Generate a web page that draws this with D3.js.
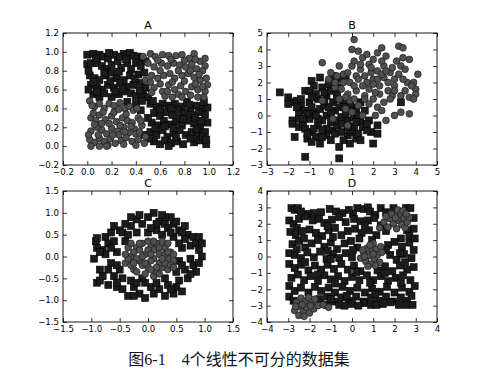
<!DOCTYPE html>
<html>
<head>
<meta charset="utf-8">
<script src="https://cdn.jsdelivr.net/npm/d3@7"></script>
<style>
  body { margin: 0; background: #fff; }
  svg { display: block; }
  .tick text { font-family: "DejaVu Sans", sans-serif; font-size: 8.6px; fill: #000; }
  .tick line { stroke: #000; stroke-width: 0.8; }
  .domain { display: none; }
</style>
</head>
<body>
<svg id="fig" width="486" height="377"></svg>
<script>
// ---- data ----
// panel A: XOR-like uniform square
const aSquares = [[0.0,0.97],[0.05,0.98],[0.1,0.97],[0.13,0.95],[0.17,0.93],[0.22,0.97],[0.3,0.98],[0.35,0.99],[0.38,0.96],[0.42,0.95],[0.45,0.93],
  [0.0,0.87],[0.03,0.88],[0.08,0.88],[0.12,0.85],[0.16,0.82],[0.2,0.86],[0.25,0.9],[0.33,0.88],[0.4,0.88],[0.28,0.83],[0.36,0.82],[0.44,0.85],
  [0.02,0.75],[0.06,0.72],[0.1,0.7],[0.15,0.75],[0.2,0.78],[0.24,0.72],[0.3,0.7],[0.35,0.75],[0.42,0.76],[0.47,0.78],
  [0.03,0.65],[0.08,0.62],[0.12,0.6],[0.17,0.65],[0.22,0.62],[0.27,0.67],[0.32,0.63],[0.38,0.65],[0.44,0.67],[0.48,0.62],
  [0.05,0.55],[0.1,0.52],[0.14,0.56],[0.2,0.52],[0.26,0.55],[0.3,0.58],[0.36,0.56],[0.4,0.53],[0.46,0.55],[0.5,0.52],
  [0.33,0.47],[0.4,0.45],[0.45,0.48],
  [0.07,0.93],[0.18,0.99],[0.27,0.95],[0.32,0.92],[0.48,0.9],[0.01,0.8],[0.14,0.78],[0.26,0.79],[0.39,0.71],[0.05,0.68],[0.19,0.69],
  [0.29,0.61],[0.43,0.59],[0.08,0.58],[0.23,0.58],[0.01,0.6],
  [0.52,0.45],[0.57,0.42],[0.62,0.45],[0.67,0.43],[0.72,0.45],[0.78,0.42],[0.85,0.4],[0.9,0.43],[0.95,0.4],[0.99,0.41],
  [0.55,0.35],[0.6,0.32],[0.65,0.36],[0.7,0.33],[0.75,0.38],[0.8,0.35],[0.86,0.33],[0.92,0.36],[0.97,0.33],
  [0.53,0.25],[0.58,0.22],[0.63,0.27],[0.68,0.23],[0.73,0.26],[0.78,0.22],[0.83,0.27],[0.88,0.24],[0.93,0.2],[0.99,0.25],
  [0.52,0.15],[0.57,0.12],[0.62,0.17],[0.66,0.1],[0.71,0.14],[0.76,0.17],[0.81,0.12],[0.86,0.15],[0.91,0.12],[0.97,0.15],
  [0.55,0.05],[0.6,0.02],[0.64,0.06],[0.69,0.03],[0.74,0.05],[0.79,0.02],[0.88,0.04],[0.93,0.06],[0.98,0.02],
  [0.47,0.12],[0.5,0.3],[0.44,0.38],[0.82,0.47],[0.96,0.47],
  [0.54,0.48],[0.6,0.39],[0.69,0.4],[0.76,0.3],[0.84,0.44],[0.89,0.3],[0.94,0.27],[0.56,0.19],[0.64,0.21],[0.71,0.19],[0.79,0.29],
  [0.85,0.08],[0.9,0.18],[0.95,0.1],[0.51,0.08],[0.67,0.0],[0.73,0.1],[0.98,0.07]];
const aCircles = [[0.52,0.98],[0.56,0.95],[0.62,0.97],[0.67,0.96],[0.73,0.96],[0.78,0.97],[0.84,0.93],[0.88,0.98],[0.93,0.9],[0.97,0.85],
  [0.5,0.88],[0.55,0.84],[0.61,0.88],[0.66,0.85],[0.71,0.88],[0.76,0.86],[0.81,0.84],[0.86,0.87],[0.9,0.82],[0.95,0.8],
  [0.53,0.75],[0.58,0.72],[0.63,0.75],[0.68,0.77],[0.72,0.72],[0.78,0.75],[0.83,0.77],[0.88,0.73],[0.93,0.7],[0.98,0.72],
  [0.55,0.62],[0.62,0.58],[0.67,0.65],[0.72,0.6],[0.77,0.64],[0.81,0.58],[0.86,0.63],[0.91,0.6],[0.97,0.58],[0.99,0.65],
  [0.64,0.53],[0.7,0.52],[0.75,0.55],[0.85,0.54],[0.96,0.52],[0.48,0.7],[0.46,0.95],[0.6,0.8],[0.89,0.92],[0.8,0.91],
  [0.58,0.91],[0.69,0.92],[0.75,0.8],[0.85,0.8],[0.92,0.76],[0.97,0.93],[0.52,0.68],[0.6,0.66],[0.7,0.68],[0.8,0.69],[0.89,0.66],
  [0.95,0.63],[0.66,0.58],[0.53,0.57],[0.78,0.52],[0.91,0.52],
  [0.02,0.48],[0.06,0.42],[0.1,0.45],[0.14,0.4],[0.18,0.45],[0.22,0.43],[0.27,0.46],[0.31,0.4],[0.35,0.42],[0.38,0.38],
  [0.03,0.3],[0.07,0.27],[0.1,0.33],[0.15,0.28],[0.2,0.32],[0.24,0.26],[0.29,0.3],[0.33,0.27],[0.37,0.25],[0.42,0.3],
  [0.03,0.16],[0.08,0.2],[0.12,0.17],[0.16,0.13],[0.2,0.19],[0.25,0.16],[0.3,0.2],[0.34,0.14],[0.39,0.18],[0.45,0.22],
  [0.02,0.07],[0.06,0.04],[0.1,0.08],[0.14,0.05],[0.19,0.08],[0.23,0.03],[0.28,0.06],[0.32,0.09],[0.37,0.05],[0.42,0.07],[0.47,0.03],
  [0.03,0.0],[0.1,0.0],[0.17,0.01],[0.26,0.12],[0.12,0.24],[0.05,0.35],[0.4,0.13],[0.48,0.1],[0.22,0.36],
  [0.04,0.43],[0.13,0.36],[0.26,0.39],[0.32,0.34],[0.41,0.4],[0.06,0.23],[0.18,0.24],[0.27,0.22],[0.36,0.21],[0.44,0.27],
  [0.01,0.12],[0.09,0.12],[0.21,0.12],[0.31,0.15],[0.43,0.15],[0.16,0.0],[0.3,0.02],[0.4,0.01]];

// panel B: two overlapping blobs
const bSquares = [[-2.4,1.4],[-2.0,1.1],[-1.9,0.8],[-1.6,0.9],[-1.2,1.5],[-0.9,2.1],[-0.8,1.8],[-1.0,1.5],[-0.4,1.7],[-0.1,1.9],[0.2,2.0],[0.5,2.2],[0.7,2.4],
  [-1.4,0.6],[-1.0,0.8],[-0.6,1.0],[-0.2,1.2],[0.3,1.3],[0.6,0.9],[1.0,0.5],[1.4,0.8],[-1.8,-0.3],[-1.8,-0.5],[-1.5,-0.7],[-1.3,-0.5],[-1.2,-0.8],
  [-1.0,-0.2],[-0.8,0.2],[-0.5,0.4],[-0.2,0.0],[0.2,0.3],[0.5,-0.1],[0.8,-0.3],[1.1,-0.1],[1.4,-0.4],[1.8,-0.3],[-1.7,-1.3],[-1.1,-1.4],[-0.9,-1.0],
  [-0.7,-1.3],[-0.5,-1.7],[-0.9,-1.6],[-0.2,-0.8],[0.1,-0.9],[0.2,-1.1],[0.5,-1.0],[0.8,-1.2],[1.2,-1.4],[1.3,-1.1],[1.0,-1.0],[1.5,-0.7],[1.9,-1.0],
  [2.2,-0.6],[2.2,-1.1],[2.0,-1.7],[0.4,-1.9],[0.9,-1.7],[-1.2,-2.5],[0.4,-2.6],[0.0,-0.4],[-0.4,-0.3],[-0.6,-0.6],[0.3,-0.6],[0.7,0.1],[1.2,0.2],
  [-1.5,0.2],[-1.2,0.3],[-0.9,0.5],[-0.3,0.6],[0.1,0.8],[0.4,0.5],[1.1,-0.7],[1.6,0.3],[-0.6,-0.2],[0.0,1.5],[-0.5,2.3],[0.1,2.4],[1.4,-1.5],
  [3.3,0.8],[-0.2,-1.2],[0.6,-1.5],[-0.4,-1.3],[1.7,-0.9],[-1.4,1.0],[-0.7,0.0],[0.0,0.2],[-1.1,0.1],
  [-0.3,1.4],[0.4,1.7],[-0.7,1.3],[0.9,0.7],[-1.6,0.5],[-0.1,0.5],[0.6,0.5],[1.3,0.0],[-1.5,-0.2],[-0.4,-0.9],[0.5,-0.5],[1.7,-0.5],
  [-1.1,-1.1],[0.0,-1.5],[0.9,-0.9],[-0.8,-0.8],[-0.3,0.9],[-0.9,1.1],[0.3,1.0],[1.2,-0.4],[-2.0,0.7],[-1.3,-0.2],[0.8,-0.7],[0.2,-0.3]];
const bCircles = [[1.1,4.6],[3.2,4.2],[3.4,4.1],[2.4,4.1],[2.2,3.8],[1.0,4.0],[1.3,3.9],[4.1,2.5],[3.7,3.4],[3.4,3.5],[3.3,3.0],[-0.4,3.2],[0.4,3.0],
  [1.0,3.0],[1.5,3.5],[1.8,3.1],[2.5,3.0],[2.8,2.6],[3.0,2.2],[3.6,2.0],[3.9,2.0],[4.0,1.6],[4.0,1.3],[3.7,1.1],[3.3,1.2],[3.3,0.2],[3.7,0.1],
  [3.0,0.0],[2.6,-0.3],[2.2,0.5],[2.1,0.0],[1.5,0.0],[0.8,-0.6],[0.1,-0.2],[-0.4,0.9],[-0.1,2.2],[0.0,2.6],[0.3,2.4],[0.5,1.6],[0.8,1.3],[1.2,1.5],
  [1.6,1.2],[2.0,1.0],[2.3,1.3],[2.7,1.5],[3.0,1.8],[2.5,2.3],[2.0,2.2],[1.7,2.0],[1.2,2.4],[0.9,2.0],[0.6,2.5],[1.4,2.8],[2.2,2.7],[2.9,2.9],
  [1.9,2.6],[2.3,1.8],[1.5,1.8],[0.9,0.9],[1.3,0.6],[1.8,0.7],[2.5,0.8],[0.7,0.4],[1.0,0.2],[0.4,1.0],[0.2,1.7],[2.7,2.0],[3.2,2.5],[1.1,3.3],
  [2.0,3.4],[2.6,3.6],[3.5,2.8],[1.6,2.4],[2.1,1.4],[1.1,1.0],[1.8,1.6],[0.6,2.0],[2.4,2.5],[2.9,1.2],[3.5,1.5],
  [1.3,2.2],[1.9,2.9],[2.6,2.7],[3.1,3.3],[3.4,2.2],[0.8,2.6],[1.1,1.8],[2.2,2.2],[2.8,1.0],[1.6,1.0],[2.4,0.3],[3.8,1.8],[1.4,3.1],
  [0.2,2.0],[3.0,1.5],[2.0,1.9],[1.7,3.7],[0.7,1.1],[2.4,3.3],[3.9,1.0]];

// panel C: disk inside a ring
const cSquares = [[-0.95,-0.05],[-0.92,0.35],[-0.9,0.42],[-0.85,-0.3],[-0.9,-0.6],[-0.85,-0.55],[-0.75,0.45],[-0.7,0.3],[-0.8,0.15],[-0.65,-0.15],
  [-0.6,-0.45],[-0.55,-0.7],[-0.5,0.6],[-0.45,0.55],[-0.3,0.7],[-0.3,0.9],[-0.1,0.75],[0.0,0.9],[0.1,1.0],[0.2,0.8],[0.3,0.75],[0.35,0.65],
  [0.45,0.75],[0.5,0.8],[0.55,0.6],[0.65,0.7],[0.7,0.5],[0.8,0.45],[0.75,0.25],[0.85,0.3],[0.9,0.15],[0.95,0.0],[0.75,-0.05],[0.8,-0.2],
  [0.65,-0.3],[0.7,-0.5],[0.55,-0.55],[0.5,-0.7],[0.45,-0.85],[0.3,-0.9],[0.35,-0.65],[0.2,-0.75],[0.05,-0.7],[-0.05,-0.6],[-0.15,-0.85],
  [-0.25,-0.7],[-0.35,-0.9],[-0.3,-0.55],[-0.45,-0.5],[-0.5,-0.3],[-0.55,0.1],[-0.6,0.35],[-0.4,0.35],[-0.2,0.55],[0.0,0.55],[0.15,0.6],
  [0.25,0.5],[0.45,0.45],[0.6,0.2],[0.55,-0.1],[0.5,-0.35],[0.3,-0.5],[-0.1,-0.5],[-0.7,-0.3],[-0.75,0.05],[-0.65,0.55],[-0.2,0.85],[0.4,0.9],
  [0.85,-0.35],[0.6,-0.8],[-0.05,-0.95],[-0.45,-0.75],[-0.9,0.2],[0.9,0.45],[0.65,0.4],[-0.55,-0.6],[-0.8,-0.45],[0.3,0.9],[0.15,0.75],[-0.4,0.75],
  [-0.85,0.1],[-0.7,-0.65],[-0.6,0.7],[-0.15,0.95],[0.25,0.95],[0.6,0.55],[0.95,0.3],[0.9,-0.15],[0.75,-0.4],[0.4,-0.75],[0.1,-0.85],
  [-0.25,-0.9],[-0.55,-0.2],[-0.65,0.2],[0.55,0.3],[0.6,-0.2],[-0.35,0.5],[0.05,0.65],[0.4,0.55],[-0.2,-0.6],[0.15,-0.6]];
const cCircles = [[-0.4,-0.15],[-0.35,0.2],[-0.3,0.0],[-0.25,-0.3],[-0.2,0.2],[-0.15,-0.1],[-0.1,0.3],[-0.05,0.05],[0.0,-0.25],[0.05,0.2],
  [0.1,-0.05],[0.1,-0.45],[0.15,0.3],[0.2,0.05],[0.25,-0.25],[0.3,0.2],[0.35,-0.05],[0.4,0.1],[0.45,-0.1],[0.35,-0.3],[0.15,-0.35],[-0.05,-0.4],
  [-0.2,-0.35],[0.0,0.35],[0.1,0.15],[-0.3,-0.2],[0.2,-0.15],[-0.1,-0.2],[0.25,0.35],[-0.25,0.1],[0.05,-0.1],[0.3,-0.15],[-0.15,0.15],[0.4,-0.2],
  [0.45,0.05],[-0.35,-0.05],[0.0,0.15],[0.15,-0.25],[-0.1,0.0],[0.2,0.2],[0.3,0.05],[-0.2,-0.05],[0.1,0.35],[0.05,-0.3],[0.35,0.1],
  [-0.3,0.3],[0.2,-0.4],[-0.15,0.3],[0.35,0.3],[0.45,-0.25],[-0.4,0.05],[0.25,-0.05],[-0.05,-0.15],[0.05,0.05],[-0.25,-0.15]];

// panel D: uniform squares with three small clusters of circles
const dSquares = [[-2.85,2.95],[-2.7,2.85],[-2.55,2.95],[-1.45,2.7],[-1.05,2.9],[-0.75,2.75],[-0.45,2.65],[0.25,2.95],[0.55,2.9],[0.75,3.0],
  [0.85,2.75],[1.35,2.95],[1.95,2.95],[2.55,2.95],[2.75,2.95],[-1.8,2.65],[-2.1,2.6],[0.05,2.6],[1.1,2.55],[1.6,2.7],
  [-2.95,2.2],[-2.75,2.0],[-2.5,2.3],[-2.2,2.45],[-1.85,2.2],[-1.55,2.3],[-1.3,2.05],[-0.95,2.25],[-0.6,2.4],[-0.3,2.1],[0.1,2.3],[0.4,2.15],
  [0.75,2.2],[1.05,2.35],[1.35,1.9],[2.9,1.7],[2.6,1.6],[-2.6,1.75],
  [-2.9,1.5],[-2.65,1.3],[-2.35,1.55],[-2.0,1.65],[-1.7,1.45],[-1.4,1.25],[-1.1,1.6],[-0.8,1.75],[-0.5,1.3],[-0.2,1.55],[0.15,1.7],[0.45,1.45],
  [0.8,1.6],[1.15,1.3],[1.6,1.55],[2.3,1.1],[2.7,1.25],[0.95,1.0],
  [-2.95,0.2],[-2.8,0.75],[-2.5,0.95],[-2.2,0.55],[-1.9,0.8],[-1.6,1.0],[-1.3,0.6],[-1.0,0.85],[-0.7,0.45],[-0.35,0.8],[-0.05,0.95],[0.25,0.55],
  [1.7,0.7],[2.0,0.9],[2.35,0.6],[2.7,0.85],[2.9,0.4],
  [-2.7,0.1],[-2.4,-0.1],[-2.1,0.25],[-1.8,-0.05],[-1.5,0.3],[-1.2,-0.15],[-0.9,0.15],[-0.6,-0.1],[-0.3,0.2],[0.0,-0.05],[1.8,0.1],[2.1,-0.2],
  [2.45,0.15],[2.8,-0.1],[1.6,0.4],
  [-2.95,-0.45],[-2.7,-0.7],[-2.4,-0.5],[-2.05,-0.85],[-1.75,-0.55],[-1.45,-0.8],[-1.15,-0.5],[-0.85,-0.75],[-0.5,-0.45],[-0.2,-0.8],[0.1,-0.55],
  [0.4,-0.9],[1.2,-0.85],[1.55,-0.6],[1.9,-0.9],[2.25,-0.55],[2.6,-0.8],[2.9,-0.65],
  [-2.85,-1.3],[-2.55,-1.1],[-2.25,-1.45],[-1.95,-1.2],[-1.6,-1.5],[-1.3,-1.15],[-1.0,-1.4],[-0.65,-1.2],[-0.35,-1.5],[0.0,-1.25],[0.35,-1.45],
  [0.7,-1.15],[1.0,-1.45],[1.35,-1.2],[1.7,-1.5],[2.05,-1.3],[2.4,-1.15],[2.75,-1.45],
  [-2.95,-1.8],[-2.7,-2.1],[-2.4,-1.9],[-2.05,-2.2],[-1.75,-1.85],[-1.45,-2.1],[-1.1,-1.9],[-0.8,-2.2],[-0.45,-1.85],[-0.1,-2.1],[0.25,-1.9],
  [0.6,-2.2],[0.95,-1.95],[1.3,-2.15],[1.65,-1.85],[2.0,-2.2],[2.35,-1.9],[2.7,-2.15],[2.95,-1.8],
  [-1.5,-2.6],[-1.15,-2.45],[-0.85,-2.75],[-0.5,-2.5],[-0.15,-2.7],[0.2,-2.45],[0.55,-2.75],[0.9,-2.5],[1.25,-2.7],[1.6,-2.45],[1.95,-2.75],
  [2.3,-2.5],[2.6,-2.7],[-2.95,-2.45],[-2.75,-2.7],
  [-1.2,-2.95],[-0.6,-2.95],[0.0,-2.9],[0.55,-2.85],[0.9,-2.95],[1.45,-2.9],[1.8,-2.8],[2.2,-2.95],[2.85,-2.95],
  [-2.4,2.75],[-0.15,2.85],[2.9,2.35],[-1.15,1.85],[0.6,1.9],[-2.25,1.1],[-0.9,1.2],[0.35,1.1],[2.95,1.1],[-2.6,0.45],[-1.15,0.35],
  [0.05,0.4],[2.25,0.2],[-2.2,-0.35],[-1.0,-0.15],[2.5,-0.35],[-1.6,-1.1],[0.2,-0.95],[1.55,-1.0],[-0.8,-1.65],[0.85,-1.6],[2.3,-1.6],
  [-0.25,-2.4],[1.1,-2.3],[-1.0,-2.6],[2.8,-2.4],[0.3,-3.0],[1.15,-2.95],[-0.35,-3.0],[2.55,-2.95]];
const dCircles = [[1.3,1.75],[1.5,2.1],[1.7,1.8],[1.8,2.3],[1.95,2.0],[2.0,2.55],[2.1,1.7],[2.2,2.2],[2.3,2.6],[2.35,1.95],[2.45,2.35],[2.5,1.75],
  [2.6,2.1],[2.7,2.4],[2.15,2.85],[1.85,2.6],[2.4,2.8],[1.6,2.45],[2.05,2.35],[2.55,2.6],
  [0.4,-0.1],[0.55,0.25],[0.65,-0.3],[0.7,0.5],[0.8,0.05],[0.9,-0.45],[0.95,0.35],[1.0,0.8],[1.05,-0.15],[1.15,0.45],[1.2,0.1],[1.3,-0.35],
  [1.35,0.6],[0.75,-0.6],[0.6,0.0],[0.85,0.7],[1.1,-0.55],[1.4,0.25],[0.5,0.4],[1.0,0.15],
  [-2.7,-3.3],[-2.6,-2.8],[-2.45,-3.05],[-2.4,-2.55],[-2.3,-3.35],[-2.2,-2.75],[-2.15,-3.1],[-2.05,-2.5],[-2.0,-3.45],[-1.9,-2.9],[-1.8,-3.2],
  [-1.75,-2.6],[-1.6,-3.0],[-1.35,-2.95],[-1.1,-3.1],[-2.5,-3.6],[-2.25,-3.65],[-2.65,-3.05],[-1.95,-3.0],[-2.35,-2.95]];

const titles = ["A", "B", "C", "D"];
const domains = [[-0.2, 1.2], [-3, 5], [-1.5, 1.5], [-4, 4]];
const tickValues = [
  [-0.2, 0, 0.2, 0.4, 0.6, 0.8, 1.0, 1.2],
  [-3, -2, -1, 0, 1, 2, 3, 4, 5],
  [-1.5, -1.0, -0.5, 0, 0.5, 1.0, 1.5],
  [-4, -3, -2, -1, 0, 1, 2, 3, 4]
];
const tickFormats = [".1f", "d", ".1f", "d"];
const caption = "图6-1\u30004个线性不可分的数据集";

// ---- layout ----
const boxes = [
  {x0: 63, x1: 233, y0: 33, y1: 165},
  {x0: 267, x1: 437, y0: 33, y1: 165},
  {x0: 63, x1: 233, y0: 191, y1: 322},
  {x0: 267, x1: 437, y0: 191, y1: 322}
];
const series = [[aSquares, aCircles], [bSquares, bCircles], [cSquares, cCircles], [dSquares, dCircles]];

const svg = d3.select("#fig");
const sq = 7, cr = 3.4;

boxes.forEach((b, i) => {
  const x = d3.scaleLinear().domain(domains[i]).range([b.x0, b.x1]);
  const y = d3.scaleLinear().domain(domains[i]).range([b.y1, b.y0]);
  const fmt = d3.format(tickFormats[i]);
  const g = svg.append("g");

  const clip = "clip" + i;
  g.append("clipPath").attr("id", clip)
    .append("rect").attr("x", b.x0).attr("y", b.y0).attr("width", b.x1 - b.x0).attr("height", b.y1 - b.y0);

  const marks = g.append("g").attr("clip-path", `url(#${clip})`);
  marks.selectAll("rect.sq").data(series[i][0]).join("rect")
    .attr("class", "sq")
    .attr("x", d => x(d[0]) - sq / 2)
    .attr("y", d => y(d[1]) - sq / 2)
    .attr("width", sq).attr("height", sq)
    .attr("fill", "#1c1c1c").attr("stroke", "#000").attr("stroke-width", 0.6);
  marks.selectAll("circle").data(series[i][1]).join("circle")
    .attr("cx", d => x(d[0]))
    .attr("cy", d => y(d[1]))
    .attr("r", cr)
    .attr("fill", "#505050").attr("stroke", "#111").attr("stroke-width", 0.6);

  // axes, ticks pointing inwards on all four sides
  g.append("g").attr("transform", `translate(0,${b.y1})`)
    .call(d3.axisBottom(x).tickValues(tickValues[i]).tickFormat(fmt).tickSize(-4).tickPadding(4));
  g.append("g").attr("transform", `translate(${b.x0},0)`)
    .call(d3.axisLeft(y).tickValues(tickValues[i]).tickFormat(fmt).tickSize(-4).tickPadding(4));
  g.append("g").attr("transform", `translate(0,${b.y0})`)
    .call(d3.axisTop(x).tickValues(tickValues[i]).tickFormat("").tickSize(-4));
  g.append("g").attr("transform", `translate(${b.x1},0)`)
    .call(d3.axisRight(y).tickValues(tickValues[i]).tickFormat("").tickSize(-4));

  g.append("rect")
    .attr("x", b.x0).attr("y", b.y0)
    .attr("width", b.x1 - b.x0).attr("height", b.y1 - b.y0)
    .attr("fill", "none").attr("stroke", "#000").attr("stroke-width", 0.9);

  g.append("text")
    .attr("x", (b.x0 + b.x1) / 2).attr("y", b.y0 - 4)
    .attr("text-anchor", "middle")
    .style("font-family", "DejaVu Sans, sans-serif").style("font-size", "11px")
    .text(titles[i]);
});

svg.append("text")
  .attr("x", 239).attr("y", 365)
  .attr("text-anchor", "middle")
  .style("font-family", "'Liberation Serif', 'Noto Sans CJK SC', serif")
  .style("font-size", "16px").style("fill", "#111")
  .style("white-space", "pre")
  .text(caption);
</script>
</body>
</html>
